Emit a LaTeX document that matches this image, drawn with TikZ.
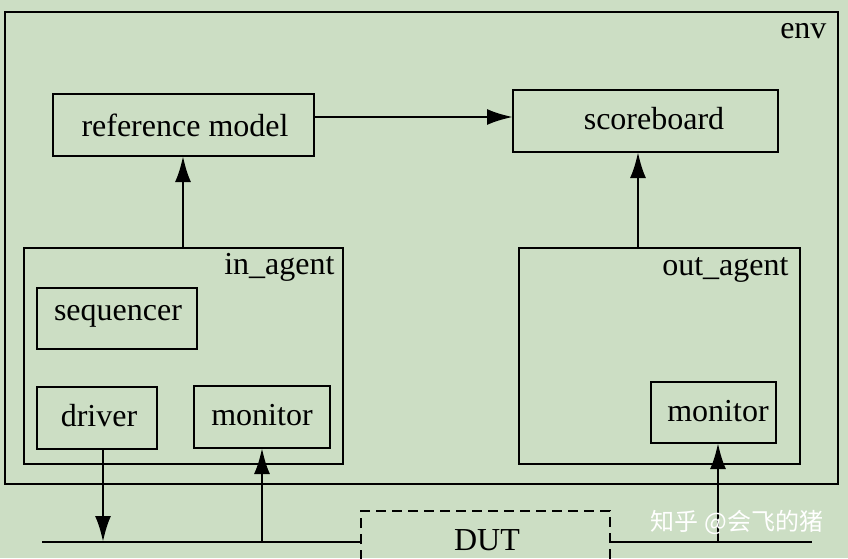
\documentclass[tikz,border=0pt]{standalone}
\usepackage{fontspec}
\setmainfont{Liberation Serif}
\newfontfamily\cjk{Noto Sans CJK SC}
\usetikzlibrary{arrows.meta}
\definecolor{bgreen}{RGB}{204,222,196}
\begin{document}
\begin{tikzpicture}[x=1pt,y=-1pt,
    blk/.style={draw=black,line width=2.8pt},
    lbl/.style={font=\fontsize{32}{36}\selectfont},
    sig/.style={line width=2.6pt,-{Latex[length=26pt,width=16pt]}},
    wire/.style={line width=2.6pt},
]
	\fill[bgreen] (0,0) rectangle (848,558);
	\useasboundingbox (0,0) rectangle (848,558);
	% env and agents
	\draw[blk] (5,12) rectangle (838,484);
	\node[lbl,anchor=north east] (env) at (830,20) {env};
	\draw[blk] (24,248) rectangle (343,464);
	\node[lbl,anchor=north east] (inag) at (338,250) {in\_agent};
	\draw[blk] (519,248) rectangle (800,464);
	\node[lbl,anchor=north east] (outag) at (792,254) {out\_agent};
	% boxes
	\draw[blk] (53,94) rectangle (314,156);
	\node[lbl] (ref) at (185,125) {reference model};
	\draw[blk] (513,90) rectangle (778,152);
	\node[lbl] (sb) at (654,119) {scoreboard};
	\draw[blk] (37,288) rectangle (197,349);
	\node[lbl] (seq) at (118,316) {sequencer};
	\draw[blk] (37,387) rectangle (157,449);
	\node[lbl] (drv) at (99,416) {driver};
	\draw[blk] (194,386) rectangle (330,448);
	\node[lbl] (imon) at (262,415) {monitor};
	\draw[blk] (651,382) rectangle (776,443);
	\node[lbl] (omon) at (718,411) {monitor};
	% DUT
	\draw[blk,dashed,dash pattern=on 10pt off 6pt] (361,560) -- (361,511) -- (610,511) -- (610,560);
	\node[lbl] (dut) at (487,540) {DUT};
	% connectors
	\coordinate (rl) at (42,542); \coordinate (rr) at (361,542);
	\coordinate (ol) at (610,542); \coordinate (or) at (812,542);
	\draw[wire] (rl) -- (rr);
	\draw[wire] (ol) -- (or);
	\draw[sig] (314,117) -- (513,117);
	\draw[sig] (183,248) -- (183,156);
	\draw[sig] (638,248) -- (638,152);
	\draw[sig] (103,449) -- (103,542);
	\draw[sig] (262,542) -- (262,448);
	\draw[sig] (718,542) -- (718,443);
	\node[white,font=\cjk\fontsize{24}{26}\selectfont] (wm) at (737,522) {知乎 @会飞的猪};
\end{tikzpicture}
\end{document}
